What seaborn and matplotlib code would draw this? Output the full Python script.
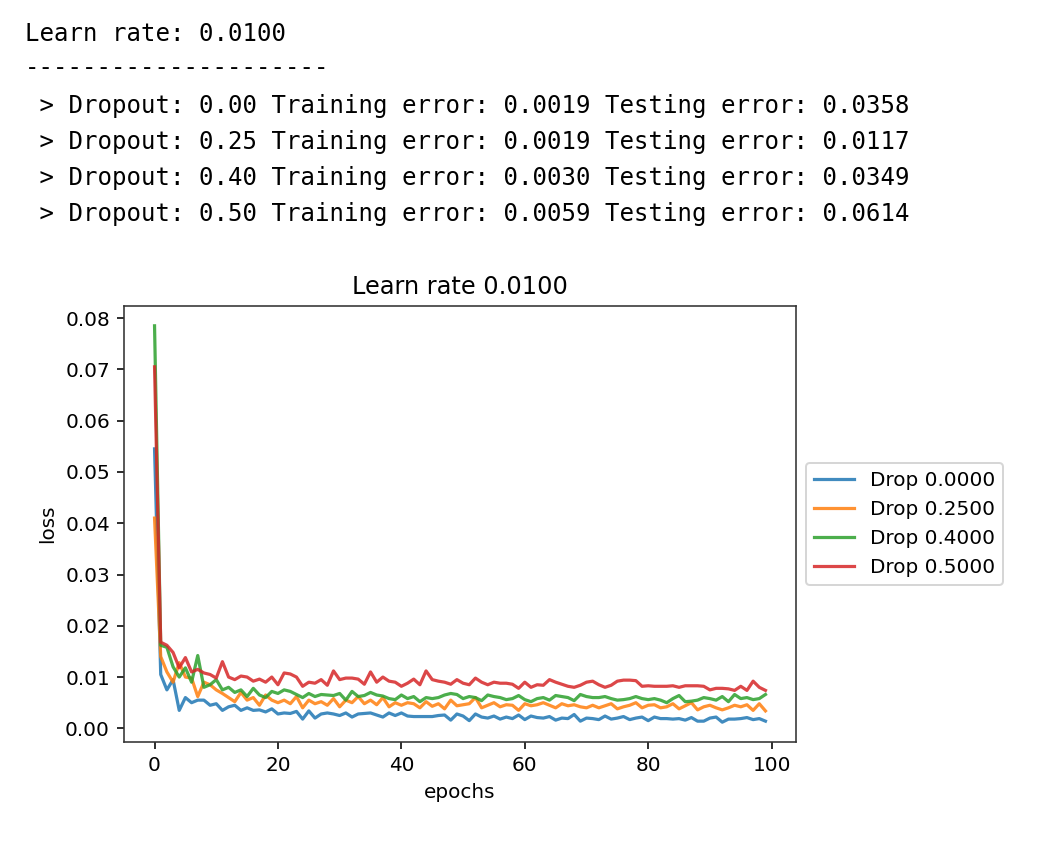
import pandas as pd
import seaborn as sns
import matplotlib.pyplot as plt

# per-epoch loss for each dropout setting
epochs = list(range(100))
drop_labels = ["Drop 0.0000", "Drop 0.2500", "Drop 0.4000", "Drop 0.5000"]

loss_d00 = [
    0.0545, 0.0105, 0.0075, 0.0095, 0.0035, 0.0060, 0.0050, 0.0055, 0.0055, 0.0045,
    0.0048, 0.0035, 0.0042, 0.0045, 0.0035, 0.0040, 0.0035, 0.0036, 0.0032, 0.0038,
    0.0028, 0.0030, 0.0029, 0.0033, 0.0018, 0.0034, 0.0020, 0.0028, 0.0030, 0.0028,
    0.0025, 0.0030, 0.0022, 0.0028, 0.0029, 0.0030, 0.0026, 0.0022, 0.0030, 0.0025,
    0.0030, 0.0024, 0.0023, 0.0023, 0.0023, 0.0023, 0.0025, 0.0026, 0.0016, 0.0028,
    0.0024, 0.0015, 0.0028, 0.0022, 0.0020, 0.0024, 0.0018, 0.0022, 0.0019, 0.0026,
    0.0017, 0.0024, 0.0021, 0.0020, 0.0023, 0.0016, 0.0020, 0.0019, 0.0027, 0.0014,
    0.0020, 0.0019, 0.0017, 0.0024, 0.0018, 0.0020, 0.0023, 0.0017, 0.0020, 0.0022,
    0.0015, 0.0022, 0.0019, 0.0019, 0.0018, 0.0019, 0.0016, 0.0021, 0.0014, 0.0014,
    0.0020, 0.0022, 0.0012, 0.0018, 0.0018, 0.0019, 0.0021, 0.0017, 0.0019, 0.0014,
]
loss_d25 = [
    0.0410, 0.0140, 0.0110, 0.0090, 0.0128, 0.0100, 0.0098, 0.0062, 0.0090, 0.0085,
    0.0075, 0.0068, 0.0060, 0.0052, 0.0070, 0.0055, 0.0060, 0.0045, 0.0065, 0.0055,
    0.0050, 0.0055, 0.0048, 0.0062, 0.0040, 0.0055, 0.0048, 0.0052, 0.0045, 0.0058,
    0.0042, 0.0055, 0.0050, 0.0062, 0.0048, 0.0055, 0.0046, 0.0060, 0.0042, 0.0050,
    0.0045, 0.0050, 0.0048, 0.0040, 0.0052, 0.0043, 0.0048, 0.0038, 0.0055, 0.0044,
    0.0046, 0.0048, 0.0060, 0.0040, 0.0045, 0.0050, 0.0042, 0.0046, 0.0045, 0.0035,
    0.0048, 0.0044, 0.0046, 0.0050, 0.0045, 0.0040, 0.0048, 0.0044, 0.0046, 0.0042,
    0.0040, 0.0045, 0.0040, 0.0044, 0.0048, 0.0038, 0.0042, 0.0045, 0.0050, 0.0040,
    0.0045, 0.0046, 0.0040, 0.0042, 0.0048, 0.0038, 0.0044, 0.0050, 0.0036, 0.0042,
    0.0045, 0.0040, 0.0036, 0.0040, 0.0045, 0.0042, 0.0046, 0.0035, 0.0048, 0.0034,
]
loss_d40 = [
    0.0785, 0.0162, 0.0158, 0.0120, 0.0100, 0.0118, 0.0090, 0.0142, 0.0080, 0.0085,
    0.0095, 0.0075, 0.0080, 0.0070, 0.0075, 0.0062, 0.0078, 0.0065, 0.0060, 0.0072,
    0.0068, 0.0075, 0.0072, 0.0066, 0.0060, 0.0068, 0.0062, 0.0066, 0.0065, 0.0064,
    0.0068, 0.0055, 0.0072, 0.0062, 0.0064, 0.0070, 0.0065, 0.0063, 0.0058, 0.0056,
    0.0065, 0.0058, 0.0062, 0.0052, 0.0060, 0.0058, 0.0060, 0.0065, 0.0068, 0.0066,
    0.0058, 0.0062, 0.0060, 0.0054, 0.0065, 0.0062, 0.0060, 0.0056, 0.0058, 0.0064,
    0.0056, 0.0052, 0.0058, 0.0060, 0.0055, 0.0064, 0.0062, 0.0060, 0.0054, 0.0066,
    0.0062, 0.0060, 0.0060, 0.0062, 0.0058, 0.0055, 0.0056, 0.0058, 0.0062, 0.0058,
    0.0056, 0.0058, 0.0055, 0.0050, 0.0058, 0.0064, 0.0052, 0.0053, 0.0055, 0.0060,
    0.0058, 0.0055, 0.0062, 0.0052, 0.0066, 0.0058, 0.0060, 0.0056, 0.0058, 0.0066,
]
loss_d50 = [
    0.0705, 0.0168, 0.0162, 0.0148, 0.0118, 0.0138, 0.0110, 0.0115, 0.0108, 0.0105,
    0.0098, 0.0130, 0.0100, 0.0095, 0.0102, 0.0100, 0.0092, 0.0096, 0.0090, 0.0100,
    0.0085, 0.0108, 0.0106, 0.0100, 0.0082, 0.0090, 0.0088, 0.0095, 0.0084, 0.0112,
    0.0095, 0.0098, 0.0098, 0.0096, 0.0086, 0.0110, 0.0090, 0.0100, 0.0092, 0.0090,
    0.0082, 0.0088, 0.0096, 0.0085, 0.0112, 0.0095, 0.0092, 0.0090, 0.0086, 0.0095,
    0.0088, 0.0085, 0.0098, 0.0090, 0.0085, 0.0090, 0.0088, 0.0088, 0.0086, 0.0078,
    0.0090, 0.0080, 0.0085, 0.0084, 0.0095, 0.0090, 0.0086, 0.0082, 0.0080, 0.0084,
    0.0090, 0.0092, 0.0085, 0.0080, 0.0084, 0.0092, 0.0094, 0.0094, 0.0093, 0.0082,
    0.0083, 0.0082, 0.0082, 0.0082, 0.0083, 0.0080, 0.0083, 0.0083, 0.0083, 0.0082,
    0.0075, 0.0078, 0.0078, 0.0077, 0.0074, 0.0082, 0.0074, 0.0092, 0.0080, 0.0074,
]

# printed summary above the plot
dropouts = ["0.00", "0.25", "0.40", "0.50"]
train_err = ["0.0019", "0.0019", "0.0030", "0.0059"]
test_err = ["0.0358", "0.0117", "0.0349", "0.0614"]

W, H = 1052, 852
fig = plt.figure(figsize=(W / 144, H / 144), dpi=144)

mono = dict(family="DejaVu Sans Mono", fontsize=12, va="baseline", ha="left")
fig.text(25 / W, 1 - 41 / H, "Learn rate: 0.0100", **mono)
fig.text(25 / W, 1 - 75 / H, "-" * 21, **mono)
for i, (d, tr, te) in enumerate(zip(dropouts, train_err, test_err)):
    line = f" > Dropout: {d} Training error: {tr} Testing error: {te}"
    fig.text(25 / W, 1 - (113 + 36 * i) / H, line, **mono)

ax = fig.add_axes([124 / W, 1 - 742 / H, (796 - 124) / W, (742 - 306) / H])

df = pd.DataFrame({
    "epoch": epochs * 4,
    "loss": loss_d00 + loss_d25 + loss_d40 + loss_d50,
    "run": [lab for lab in drop_labels for _ in epochs],
})
sns.lineplot(data=df, x="epoch", y="loss", hue="run", palette="tab10",
             linewidth=1.6, alpha=0.85, ax=ax)

ax.set_title("Learn rate 0.0100")
ax.set_xlabel("epochs")
ax.set_ylabel("loss")
for s in ax.spines.values():
    s.set_color("#333333")
handles, labels = ax.get_legend_handles_labels()
ax.legend(handles, labels, loc="center left", bbox_to_anchor=(1, 0.5))

fig.savefig("out.png", dpi=144)
